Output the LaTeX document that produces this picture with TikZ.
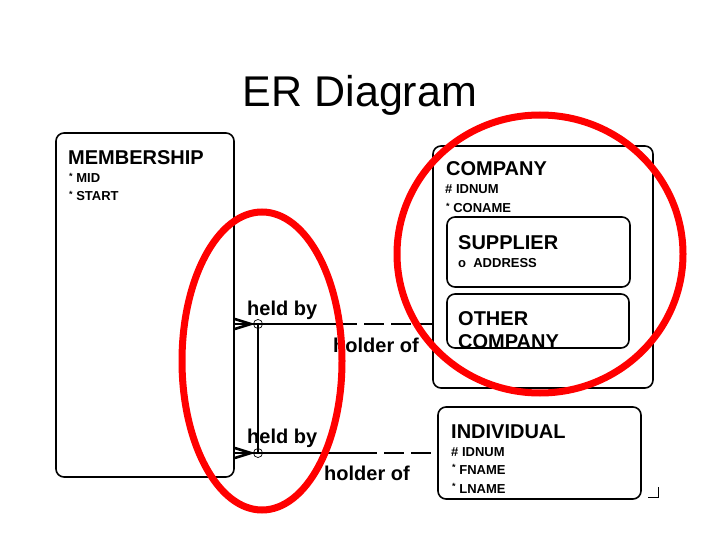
\documentclass[tikz,border=0pt]{standalone}
\usepackage{fontspec}
\setmainfont{Liberation Sans}
\usetikzlibrary{positioning}

\newcommand{\attrstar}{\raisebox{3.5pt}{\fontsize{9}{9}\selectfont *}}

\tikzset{
  entity/.style={draw, line width=1.6pt, rounded corners=8pt, inner sep=0pt},
  ename/.style={anchor=base west, inner sep=0pt, font=\bfseries\fontsize{20}{20}\selectfont},
  attr/.style={anchor=base west, inner sep=0pt, font=\bfseries\fontsize{13}{13}\selectfont},
  relname/.style={anchor=base west, inner sep=0pt, font=\bfseries\fontsize{20}{20}\selectfont},
  relline/.style={line width=1.6pt},
  optline/.style={line width=1.6pt, dash pattern=on 20pt off 7pt},
  crowfoot/.style={line width=2.6pt},
  optcircle/.style={circle, draw, line width=0.7pt, minimum size=9pt, inner sep=0pt},
  hilite/.style={draw=red, line width=7pt},
}

\begin{document}
\begin{tikzpicture}[x=1pt, y=-1pt]

    % --- Page ---
    \useasboundingbox[fill=white] (0,0) rectangle (720,540);

    % --- Title ---
    \node[anchor=base, inner sep=0pt, font=\fontsize{43}{43}\selectfont] (title) at (360,107) {ER Diagram};

    % --- Entity names and attributes ---
    \node[ename] (membershipname) at (68,165) {MEMBERSHIP};
    \node[attr] at (69,183) {\attrstar\ MID};
    \node[attr] at (69,201) {\attrstar\ START};

    \node[ename] (companyname) at (446,176) {COMPANY};
    \node[attr] at (445,194) {\#\ IDNUM};
    \node[attr] at (446,213) {\attrstar\ CONAME};

    \node[ename] (suppliername) at (458,249) {SUPPLIER};
    \node[attr] at (458,267) {o\ \ ADDRESS};

    \node[ename] (othername) at (458,325) {OTHER};
    \node[ename] at (458,348) {COMPANY};

    \node[ename] (individualname) at (451,438) {INDIVIDUAL};
    \node[attr] at (451,456) {\#\ IDNUM};
    \node[attr] at (452,474) {\attrstar\ FNAME};
    \node[attr] at (452,493) {\attrstar\ LNAME};

    % --- Entities ---
    \node[entity, minimum width=178pt, minimum height=344pt] (membership) at (145,305) {};
    \node[entity, minimum width=220pt, minimum height=242pt] (company) at (543,267) {};
    \node[entity, minimum width=183pt, minimum height=70pt] (supplier) at (538.5,252) {};
    \node[entity, minimum width=182pt, minimum height=54pt] (othercompany) at (538,321) {};
    \node[entity, minimum width=203pt, minimum height=92pt] (individual) at (539.5,453) {};

    % --- Relationships ---
    \coordinate (heldtop) at (membership.east |- 0,324);
    \coordinate (midtop) at (337,324);
    \coordinate (heldbot) at (membership.east |- 0,453);
    \coordinate (midbot) at (357,453);

    \draw[relline] (heldtop) -- (midtop);
    \draw[optline] (midtop) -- (company.west |- heldtop);
    \draw[relline] (heldbot) -- (midbot);
    \draw[optline] (midbot) -- (individual.west |- heldbot);

    % crow's feet at MEMBERSHIP
    \draw[crowfoot] ([yshift=-5pt]heldtop) -- ++(16,-5) -- ([yshift=5pt]heldtop);
    \draw[crowfoot] ([yshift=-5pt]heldbot) -- ++(16,-5) -- ([yshift=5pt]heldbot);

    % optional circles and exclusive arc
    \node[optcircle] (opttop) at (258,324) {};
    \node[optcircle] (optbot) at (258,453) {};
    \draw[line width=1.2pt] (opttop.center) -- (optbot.center);

    \node[relname] (heldbytop) at (247,315) {held by};
    \node[relname] (holdertop) at (333,352) {holder of};
    \node[relname] (heldbybot) at (247,443) {held by};
    \node[relname] (holderbot) at (324,480) {holder of};

    % corner mark
    \draw[line width=0.8pt] (648,497) -- (658,497) -- (658,487);

    % --- Highlights ---
    \draw[hilite] (262,361) ellipse [x radius=80, y radius=149];
    \draw[hilite] (540,254) ellipse [x radius=143, y radius=139];

\end{tikzpicture}
\end{document}
